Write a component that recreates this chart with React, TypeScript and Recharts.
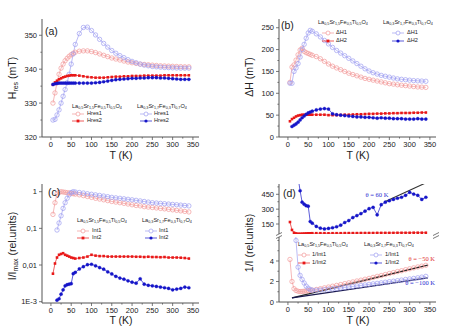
import React from "react";
import { LineChart, Line, XAxis, YAxis } from "recharts";

const W = 474;
const H = 330;
const YW = 30;
const XH = 20;
const FRAME = "#555";
const TXT = "#222";
const FONT = "'Liberation Sans', Arial, sans-serif";

const PINK = "#f29a9a";
const RED = "#e81818";
const LBLUE = "#9d9df0";
const BLUE = "#1515c8";

// temperature grid (K) shared by all series
const temps = [5, 10, 15, 20, 25, 30, 35, 40, 45, 50, 55, 60, 70, 80, 90, 100, 110, 120, 130, 140, 150, 160, 170, 180, 190, 200, 210, 220, 230, 240, 250, 260, 270, 280, 290, 300, 310, 320, 330, 340];

// (a) resonance field, mT
const hres1A = [330, 333, 336, 338.5, 340.3, 341.5, 342.5, 343.2, 343.8, 344.3, 344.7, 345.0, 345.3, 345.4, 345.4, 345.2, 344.9, 344.5, 344.1, 343.7, 343.3, 343.0, 342.7, 342.4, 342.1, 341.9, 341.7, 341.5, 341.4, 341.3, 341.2, 341.1, 341.0, 340.95, 340.9, 340.85, 340.8, 340.75, 340.7, 340.7];
const hres2A = [335.4, 336.1, 336.6, 337.0, 337.3, 337.6, 337.8, 338.0, 338.1, 338.2, 338.2, 338.2, 338.1, 337.9, 337.7, 337.6, 337.5, 337.5, 337.5, 337.6, 337.7, 337.8, 337.8, 337.9, 337.9, 338.0, 338.0, 338.0, 338.1, 338.1, 338.1, 338.1, 338.1, 338.2, 338.2, 338.2, 338.2, 338.2, 338.2, 338.2];
const hres1B = [325, 325.2, 326.5, 328, 330, 332, 334, 336, 338.5, 341.5, 344.5, 347.3, 350.5, 352.3, 352.4, 351.4, 350.1, 348.8, 347.6, 346.5, 345.5, 344.7, 344.0, 343.4, 342.8, 342.3, 341.9, 341.5, 341.2, 341.0, 340.8, 340.7, 340.6, 340.5, 340.45, 340.4, 340.35, 340.3, 340.3, 340.3];
const hres2B = [335.5, 335.7, 335.8, 335.9, 335.9, 335.9, 335.9, 335.9, 335.9, 335.9, 335.9, 335.9, 335.9, 335.9, 335.9, 335.9, 336.0, 336.1, 336.3, 336.5, 336.7, 336.9, 337.0, 337.1, 337.2, 337.3, 337.3, 337.4, 337.4, 337.5, 337.5, 337.5, 337.4, 337.4, 337.3, 337.2, 337.1, 337.0, 337.0, 337.0];

// (b) linewidth, mT
const dh1A = [125, 160, 165, 176, 188, 199, 203, 196, 193, 191, 189, 187, 184, 179, 173, 167, 162, 158, 154, 150, 146, 143, 140, 137, 134, 132, 130, 128, 126, 124, 122, 121, 119.5, 118.5, 117.5, 116.5, 115.5, 114.5, 114, 113.5];
const dh2A = [36, 41, 44, 47, 49, 50, 51, 51, 51, 51, 51, 51, 51, 51, 51, 50, 50, 50, 50.5, 51, 51, 51.5, 52, 52, 52.5, 53, 53, 53.5, 53.5, 54, 54, 54.5, 54.5, 55, 55, 55, 55.5, 55.5, 56, 56];
const dh1B = [123, 123, 150, 158, 168, 183, 200, 212, 226, 238, 244, 242, 236, 229, 221, 213, 205, 198, 192, 186, 180, 174, 168, 162, 156, 151, 147, 144, 141, 139, 137, 135, 133, 132, 131, 130, 129, 128.5, 128, 127.5];
const dh2B = [null, 24, 27, 30, 34, 39, 44, 48, 52, 55, 57, 59, 62, 64, 65, 64, 53, 51, 50, 49, 48, 47, 46, 46, 45, 45, 44, 43, 44, 43, 43, 42, 42, 42, 41, 41, 41, 42, 41, 41];

// (c) normalised intensity
const int1A = [0.24, 0.5, 0.85, 0.95, 1.0, 0.98, 0.96, 0.94, 0.92, 0.9, 0.88, 0.86, 0.82, 0.78, 0.74, 0.7, 0.66, 0.63, 0.6, 0.57, 0.54, 0.52, 0.5, 0.48, 0.46, 0.44, 0.42, 0.41, 0.39, 0.38, 0.37, 0.36, 0.35, 0.34, 0.33, 0.32, 0.31, 0.3, 0.29, 0.28];
const int2A = [0.0058, 0.011, 0.016, 0.019, 0.02, 0.021, 0.019, 0.018, 0.017, 0.016, 0.0155, 0.015, 0.0155, 0.016, 0.017, 0.019, 0.018, 0.0175, 0.0175, 0.017, 0.017, 0.017, 0.017, 0.017, 0.017, 0.017, 0.0168, 0.0168, 0.0165, 0.0168, 0.0165, 0.0165, 0.0163, 0.0165, 0.016, 0.016, 0.016, 0.0158, 0.0155, 0.015];
const int1B = [null, null, 0.09, 0.14, 0.22, 0.35, 0.5, 0.66, 0.82, 0.95, 1.0, 0.98, 0.95, 0.92, 0.88, 0.85, 0.82, 0.79, 0.76, 0.73, 0.7, 0.68, 0.66, 0.64, 0.62, 0.6, 0.58, 0.56, 0.54, 0.52, 0.5, 0.49, 0.48, 0.47, 0.46, 0.45, 0.44, 0.43, 0.42, 0.41];
const int2B = [null, null, 0.0011, 0.0012, 0.0016, 0.0021, 0.0027, 0.0029, 0.003, 0.0031, 0.0058, 0.0063, 0.0078, 0.009, 0.0102, 0.0105, 0.0095, 0.0085, 0.0077, 0.0065, 0.0057, 0.0049, 0.0044, 0.0041, 0.0037, 0.0034, 0.0032, 0.0042, 0.003, 0.0028, 0.0027, 0.0026, 0.0025, 0.0024, 0.0023, 0.0021, 0.0022, 0.0023, 0.0025, 0.0024];

// (d) inverse intensity
const inv1A = [4.15, 2.0, 1.3, 1.12, 1.05, 1.02, 1.03, 1.05, 1.08, 1.1, 1.13, 1.16, 1.22, 1.3, 1.38, 1.46, 1.54, 1.62, 1.7, 1.79, 1.87, 1.96, 2.05, 2.13, 2.22, 2.3, 2.4, 2.5, 2.58, 2.68, 2.78, 2.87, 2.97, 3.05, 3.15, 3.24, 3.33, 3.42, 3.5, 3.58];
const inv2A = [170, 90, 62, 55, 52, 52, 53, 54, 55, 56, 56, 57, 57, 57, 57, 56, 57, 57, 57, 58, 58, 58, 58, 59, 59, 59, 59, 60, 60, 60, 60, 60, 61, 61, 61, 61, 62, 62, 62, 62];
const inv1B = [null, null, 9, 6, 3.4, 2.6, 2.2, 1.85, 1.55, 1.35, 1.22, 1.15, 1.15, 1.17, 1.2, 1.24, 1.28, 1.32, 1.37, 1.42, 1.47, 1.52, 1.57, 1.62, 1.67, 1.72, 1.77, 1.82, 1.87, 1.93, 1.98, 2.03, 2.08, 2.14, 2.2, 2.25, 2.3, 2.36, 2.43, 2.5];
const inv2B = [null, null, null, 830, 620, 486, 370, 350, 335, 330, 175, 158, 126, 108, 100, 105, 112, 122, 138, 165, 185, 215, 235, 255, 280, 305, 318, 243, 345, 370, 385, 398, 410, 420, 440, 470, 452, 440, 398, 420];

// Curie-Weiss fits
const fitLowT = [10, 345];
const fitM50 = [0.4, 3.6];
const fitM100 = [0.4, 2.35];
const fit60T = [240, 345];
const fit60 = [378, 575];

// axes
const xDomain = [-22, 365];
const xTicks = [0, 25, 50, 75, 100, 125, 150, 175, 200, 225, 250, 275, 300, 325, 350];
const xMajors = [0, 50, 100, 150, 200, 250, 300, 350];
const aTicks = [320, 325, 330, 335, 340, 345, 350];
const aMajors = [320, 330, 340, 350];
const bTicks = [0, 25, 50, 75, 100, 125, 150, 175, 200, 225, 250];
const bMajors = [0, 50, 100, 150, 200, 250];
const cTicks = [0.001, 0.01, 0.1, 1];
const cLabels = ["1E-3", "0,01", "0,1", "1"];
const dUpTicks = [150, 225, 300, 375, 450, 525];
const dUpMajors = [150, 300, 450];
const dLowTicks = [0, 1, 2, 3, 4, 5, 6];
const dLowMajors = [0, 2, 4];

const sampleA = [["La", "0,5"], ["Sr", "1,5"], ["Fe", "0,5"], ["Ti", "0,5"], ["O", "4"]];
const sampleB = [["La", "0,3"], ["Sr", "1,7"], ["Fe", "0,3"], ["Ti", "0,7"], ["O", "4"]];

type Frame = { l: number; r: number; t: number; b: number };

const pts = (vs: (number | null)[], ts: number[] = temps) =>
  ts.map((t, i) => ({ t, v: vs[i] })).filter((d) => d.v != null);

const XTick = (p: any) => {
  const v = p.payload.value;
  const ay = p.y - 4;
  const major = xMajors.includes(v);
  return (
    <g>
      <line x1={p.x} x2={p.x} y1={ay} y2={ay + (major ? 3 : 1.6)} stroke={FRAME} strokeWidth={0.8} />
      {major && (
        <text x={p.x} y={ay + 4} dy="0.75em" textAnchor="middle" fontSize={7.5} fill={TXT} fontFamily={FONT}>
          {v}
        </text>
      )}
    </g>
  );
};

const makeYTick = (majors: number[], fmt: (v: number) => string) => (p: any) => {
  const v = p.payload.value;
  const ax = p.x + 5;
  const major = majors.includes(v);
  return (
    <g>
      <line x1={ax - (major ? 3 : 1.6)} x2={ax} y1={p.y} y2={p.y} stroke={FRAME} strokeWidth={0.8} />
      {major && (
        <text x={ax - 5} y={p.y} dy="0.35em" textAnchor="end" fontSize={7.5} fill={TXT} fontFamily={FONT}>
          {fmt(v)}
        </text>
      )}
    </g>
  );
};

const hollow = (c: string) => ({ r: 2.2, fill: "none", stroke: c, strokeWidth: 0.7 });
const disc = (c: string) => ({ r: 1.6, fill: c, stroke: c, strokeWidth: 0.3 });
const square = (c: string) => (p: any) =>
  p.cx == null ? (
    <g key={`n-${p.index}`} />
  ) : (
    <rect key={`s-${p.index}`} x={p.cx - 1.3} y={p.cy - 1.3} width={2.6} height={2.6} fill={c} />
  );

function series(id: string, data: any[], color: string, dot: any, width = 0.7) {
  return (
    <Line
      key={id}
      data={data}
      dataKey="v"
      type="linear"
      stroke={color}
      strokeWidth={width}
      dot={dot}
      activeDot={false}
      isAnimationActive={false}
    />
  );
}

function Plot({
  f,
  yDomain,
  yTicks,
  yMajors,
  yFmt = (v: number) => String(v),
  log = false,
  hideX = false,
  hideTop = false,
  children,
}: {
  f: Frame;
  yDomain: number[];
  yTicks: number[];
  yMajors: number[];
  yFmt?: (v: number) => string;
  log?: boolean;
  hideX?: boolean;
  hideTop?: boolean;
  children: any;
}) {
  return (
    <div style={{ position: "absolute", left: 0, top: 0 }}>
      <LineChart
        width={W}
        height={H}
        margin={{ top: f.t, right: W - f.r, bottom: H - f.b - (hideX ? 0 : XH), left: f.l - YW }}
      >
        <XAxis
          dataKey="t"
          type="number"
          domain={xDomain}
          ticks={xTicks}
          interval={0}
          allowDataOverflow
          hide={hideX}
          height={XH}
          axisLine={{ stroke: FRAME }}
          tickLine={false}
          tickSize={3}
          tickMargin={1}
          tick={XTick}
        />
        {!hideTop && (
          <XAxis
            xAxisId="top"
            orientation="top"
            type="number"
            domain={xDomain}
            height={0}
            tick={false}
            tickLine={false}
            axisLine={{ stroke: FRAME }}
          />
        )}
        <YAxis
          type="number"
          scale={log ? "log" : "auto"}
          domain={yDomain}
          ticks={yTicks}
          interval={0}
          allowDataOverflow
          width={YW}
          axisLine={{ stroke: FRAME }}
          tickLine={false}
          tickSize={3}
          tickMargin={2}
          tick={makeYTick(yMajors, yFmt)}
        />
        <YAxis yAxisId="r" orientation="right" width={0} tick={false} tickLine={false} axisLine={{ stroke: FRAME }} />
        {children}
      </LineChart>
    </div>
  );
}

function Txt({
  x,
  y,
  size,
  anchor = "start",
  color = TXT,
  rotate = false,
  serif = false,
  children,
}: {
  x: number;
  y: number;
  size: number;
  anchor?: string;
  color?: string;
  rotate?: boolean;
  serif?: boolean;
  children: any;
}) {
  const tx = anchor === "middle" ? "-50%" : anchor === "end" ? "-100%" : "0";
  return (
    <div
      style={{
        position: "absolute",
        left: x,
        top: y,
        transform: rotate ? "translate(-50%,-50%) rotate(-90deg)" : `translate(${tx},-50%)`,
        fontSize: size,
        lineHeight: 1,
        whiteSpace: "nowrap",
        color,
        fontFamily: serif ? "'Liberation Serif', serif" : FONT,
      }}
    >
      {children}
    </div>
  );
}

const Sub = ({ children }: { children: any }) => (
  <span style={{ fontSize: "0.66em", position: "relative", top: "0.3em" }}>{children}</span>
);

const Formula = ({ parts }: { parts: string[][] }) => (
  <>
    {parts.map(([el, n]) => (
      <React.Fragment key={el}>
        {el}
        <Sub>{n}</Sub>
      </React.Fragment>
    ))}
  </>
);

function Key({ x, y, color, kind }: { x: number; y: number; color: string; kind: string }) {
  return (
    <svg width={12} height={6} style={{ position: "absolute", left: x, top: y - 3 }}>
      <line x1={0} x2={12} y1={3} y2={3} stroke={color} strokeWidth={0.7} />
      {kind === "hollow" && <circle cx={6} cy={3} r={2} fill="#fff" stroke={color} strokeWidth={0.7} />}
      {kind === "square" && <rect x={4.6} y={1.6} width={2.8} height={2.8} fill={color} />}
      {kind === "disc" && <circle cx={6} cy={3} r={1.6} fill={color} />}
    </svg>
  );
}

function LegendGroup({
  x,
  y,
  rows,
  mx,
  tx,
  parts,
  items,
}: {
  x: number;
  y: number;
  rows: number[];
  mx: number;
  tx: number;
  parts: string[][];
  items: { label: any; color: string; kind: string }[];
}) {
  return (
    <>
      <Txt x={x} y={y} size={5.6}>
        <Formula parts={parts} />
      </Txt>
      {items.map((it, i) => (
        <React.Fragment key={i}>
          <Key x={mx} y={rows[i]} color={it.color} kind={it.kind} />
          <Txt x={tx} y={rows[i]} size={5.6}>
            {it.label}
          </Txt>
        </React.Fragment>
      ))}
    </>
  );
}

const frameA: Frame = { l: 42, r: 199, t: 19, b: 137 };
const frameB: Frame = { l: 279, r: 436, t: 19, b: 137 };
const frameC: Frame = { l: 42, r: 199, t: 184, b: 303 };
const frameDU: Frame = { l: 279, r: 436, t: 184, b: 234 };
const frameDL: Frame = { l: 279, r: 436, t: 237, b: 302 };

export default function App() {
  return (
    <div
      style={{
        position: "absolute",
        left: 0,
        top: 0,
        width: W,
        height: H,
        background: "#fff",
        overflow: "hidden",
        fontFamily: FONT,
      }}
    >
      <Plot f={frameA} yDomain={[320, 354.8]} yTicks={aTicks} yMajors={aMajors}>
        {[
          series("a1", pts(hres1A), PINK, hollow(PINK)),
          series("a3", pts(hres1B), LBLUE, hollow(LBLUE)),
          series("a2", pts(hres2A), RED, square(RED)),
          series("a4", pts(hres2B), BLUE, disc(BLUE)),
        ]}
      </Plot>

      <Plot f={frameB} yDomain={[0, 270]} yTicks={bTicks} yMajors={bMajors}>
        {[
          series("b1", pts(dh1A), PINK, hollow(PINK)),
          series("b3", pts(dh1B), LBLUE, hollow(LBLUE)),
          series("b2", pts(dh2A), RED, square(RED)),
          series("b4", pts(dh2B), BLUE, disc(BLUE)),
        ]}
      </Plot>

      <Plot
        f={frameC}
        yDomain={[0.00092, 1.62]}
        yTicks={cTicks}
        yMajors={cTicks}
        yFmt={(v) => cLabels[cTicks.indexOf(v)]}
        log
      >
        {[
          series("c1", pts(int1A), PINK, hollow(PINK)),
          series("c3", pts(int1B), LBLUE, hollow(LBLUE)),
          series("c2", pts(int2A), RED, square(RED)),
          series("c4", pts(int2B), BLUE, disc(BLUE)),
        ]}
      </Plot>

      <Plot f={frameDU} yDomain={[49, 554]} yTicks={dUpTicks} yMajors={dUpMajors} hideX>
        {[
          series("d2", pts(inv2A), RED, square(RED)),
          series("d4", pts(inv2B), BLUE, disc(BLUE)),
          series("d6", pts(fit60, fit60T), "#333", false, 1.1),
        ]}
      </Plot>

      <Plot f={frameDL} yDomain={[0, 6.34]} yTicks={dLowTicks} yMajors={dLowMajors} hideTop>
        {[
          series("d1", pts(inv1A), PINK, hollow(PINK)),
          series("d3", pts(inv1B), LBLUE, hollow(LBLUE)),
          series("d5", pts(fitM50, fitLowT), "#2a2a2a", false, 1.3),
          series("d7", pts(fitM100, fitLowT), "#1a1a50", false, 1.3),
        ]}
      </Plot>

      {/* axis breaks in (d) */}
      <svg width={W} height={H} style={{ position: "absolute", left: 0, top: 0 }}>
        {[279, 436].map((x) => (
          <g key={x} stroke={FRAME} strokeWidth={0.8}>
            <line x1={x - 3} y1={235.5} x2={x + 3} y2={232.5} />
            <line x1={x - 3} y1={238.5} x2={x + 3} y2={235.5} />
          </g>
        ))}
      </svg>

      {/* panel letters */}
      <Txt x={45} y={31} size={10.5}>(a)</Txt>
      <Txt x={281} y={25} size={10.5}>(b)</Txt>
      <Txt x={48} y={192} size={10.5}>(c)</Txt>
      <Txt x={283} y={193} size={10.5}>(d)</Txt>

      {/* axis titles */}
      <Txt x={12} y={78} size={10.5} rotate>
        H<Sub>res</Sub> (mT)
      </Txt>
      <Txt x={121} y={155} size={10.5} anchor="middle">T (K)</Txt>
      <Txt x={249} y={77} size={10.5} rotate>ΔH (mT)</Txt>
      <Txt x={358} y={155} size={10.5} anchor="middle">T (K)</Txt>
      <Txt x={12} y={246} size={10.5} rotate>
        I/I<Sub>max</Sub> (rel.units)
      </Txt>
      <Txt x={121} y={320} size={10.5} anchor="middle">T (K)</Txt>
      <Txt x={249} y={243} size={10.5} rotate>1/I (rel.units)</Txt>
      <Txt x={358} y={320} size={10.5} anchor="middle">T (K)</Txt>

      {/* legends */}
      <LegendGroup x={72} y={106.5} rows={[113.5, 120.7]} mx={72} tx={87} parts={sampleA}
        items={[{ label: "Hres1", color: PINK, kind: "hollow" }, { label: "Hres2", color: RED, kind: "square" }]} />
      <LegendGroup x={137} y={106.5} rows={[113.5, 120.7]} mx={140} tx={154} parts={sampleB}
        items={[{ label: "Hres1", color: LBLUE, kind: "hollow" }, { label: "Hres2", color: BLUE, kind: "disc" }]} />

      <LegendGroup x={318} y={23} rows={[33, 41.3]} mx={322} tx={336} parts={sampleA}
        items={[{ label: "ΔH1", color: PINK, kind: "hollow" }, { label: "ΔH2", color: RED, kind: "square" }]} />
      <LegendGroup x={383} y={23} rows={[33, 41.3]} mx={392} tx={407} parts={sampleB}
        items={[{ label: "ΔH1", color: LBLUE, kind: "hollow" }, { label: "ΔH2", color: BLUE, kind: "disc" }]} />

      <LegendGroup x={77} y={221} rows={[230.5, 238.3]} mx={77} tx={92} parts={sampleA}
        items={[{ label: "Int1", color: PINK, kind: "hollow" }, { label: "Int2", color: RED, kind: "square" }]} />
      <LegendGroup x={142} y={221} rows={[230.5, 238.3]} mx={145} tx={159} parts={sampleB}
        items={[{ label: "Int1", color: LBLUE, kind: "hollow" }, { label: "Int2", color: BLUE, kind: "disc" }]} />

      <LegendGroup x={298} y={245} rows={[254.5, 262.5]} mx={298} tx={312} parts={sampleA}
        items={[{ label: "1/Int1", color: PINK, kind: "hollow" }, { label: "1/Int2", color: RED, kind: "square" }]} />
      <LegendGroup x={364} y={245} rows={[254.5, 262.5]} mx={370} tx={385} parts={sampleB}
        items={[{ label: "1/Int1", color: LBLUE, kind: "hollow" }, { label: "1/Int2", color: BLUE, kind: "disc" }]} />

      {/* Curie-Weiss annotations */}
      <Txt x={377} y={195} size={6.5} color="#2a2ad0" anchor="middle" serif>θ = 60 K</Txt>
      <Txt x={435} y={259} size={6.5} color="#e03030" anchor="end" serif>θ = −50 K</Txt>
      <Txt x={435} y={283} size={6.5} color="#2a2ad0" anchor="end" serif>θ = −100 K</Txt>
    </div>
  );
}
